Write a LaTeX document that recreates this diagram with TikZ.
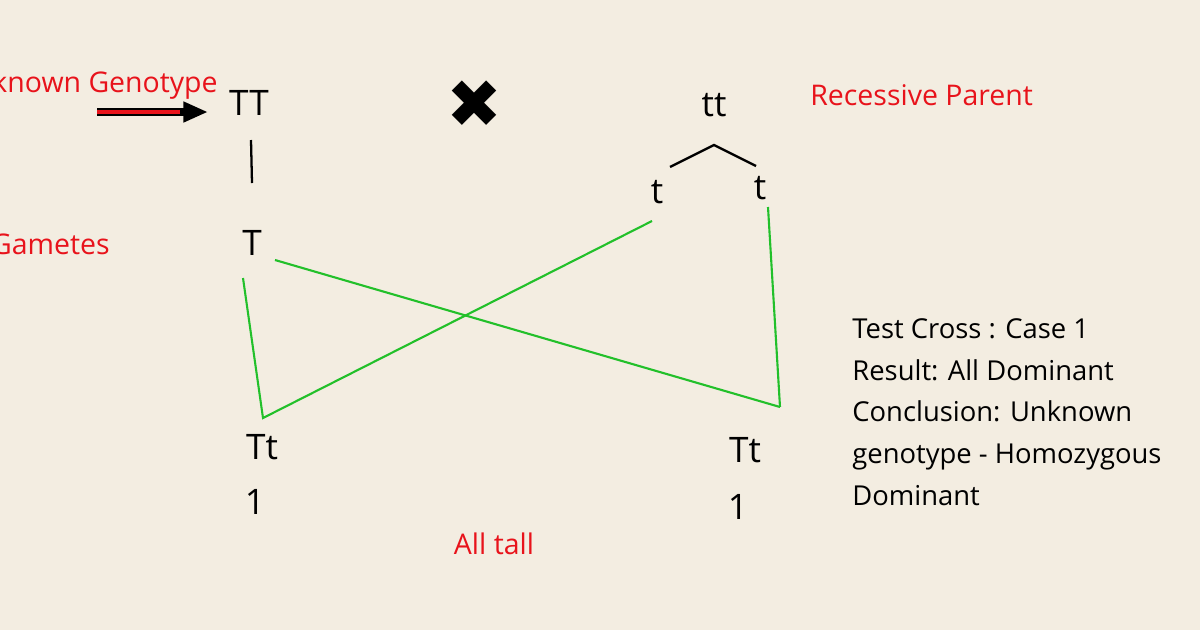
\documentclass[tikz,border=0pt]{standalone}
\usepackage{fontspec}
\setmainfont{Open Sans}
\newfontfamily\djv{DejaVu Sans}
\usetikzlibrary{arrows.meta}
\definecolor{bg}{HTML}{F3EDE1}
\definecolor{lab}{HTML}{E8131B}
\definecolor{gr}{HTML}{22C02A}
\begin{document}
\begin{tikzpicture}[x=0.02cm,y=-0.02cm,
 red/.style={text=lab,font=\fontsize{16.2}{18}\selectfont,inner sep=0},
 big/.style={font=\fontsize{20}{24}\selectfont,inner sep=0},
 blk/.style={font=\fontsize{15.6}{23.8}\selectfont,inner sep=0,align=left},
 gl/.style={draw=gr,line width=1.2pt}]
\fill[bg] (0,0) rectangle (1200,630);
\useasboundingbox (0,0) rectangle (1200,630);
\node[red,anchor=east] (ug) at (218,85) {Unknown Genotype};
\node[red,anchor=east] (gam) at (110,244) {Gametes};
\node[red,anchor=west] (rp) at (810,95) {Recessive Parent};
\node[red] (at) at (494,544) {All tall};
\node[big] (TT) at (249,103) {TT};
\node[big] (tt) at (714,105) {tt};
\node[big] (t1) at (657,192) {t};
\node[big] (t2) at (760,188) {t};
\node[big] (T) at (252,243) {T};
\node[big] (Tt1) at (262,447) {Tt};
\node[big] (n1) at (255,502) {1};
\node[big] (Tt2) at (745,450) {Tt};
\node[big] (n2) at (738,507) {1};
\node[font=\djv\fontsize{38}{38}\selectfont,inner sep=0] (x) at (474,104) {✖};
\node[blk,anchor=north west] (info) at (852,318) {Test Cross : Case 1\\Result: All Dominant\\Conclusion: Unknown\\genotype - Homozygous\\Dominant};
\coordinate (a1) at (97,112); \coordinate (a2) at (208,112);
\draw[line width=4pt,-{Triangle[length=14pt,width=11pt]}] (a1) -- (a2);
\draw[line width=2.6pt,lab] (a1) -- ([xshift=-16]a2);
\coordinate (v1) at (251,140); \coordinate (v2) at (252,183);
\draw[line width=1.3pt] (v1) -- (v2);
\coordinate (b1) at (670,167); \coordinate (b0) at (714,145); \coordinate (b2) at (756,166);
\draw[line width=1.3pt] (b1) -- (b0) -- (b2);
\coordinate (g1) at (275,260); \coordinate (g2) at (780,407);
\coordinate (g3) at (243,278); \coordinate (g4) at (263,418);
\coordinate (g5) at (652,221); \coordinate (g6) at (768,207);
\draw[gl] (g1) -- (g2);
\draw[gl] (g3) -- (g4) -- (g5);
\draw[gl] (g6) -- (g2);
\end{tikzpicture}
\end{document}
